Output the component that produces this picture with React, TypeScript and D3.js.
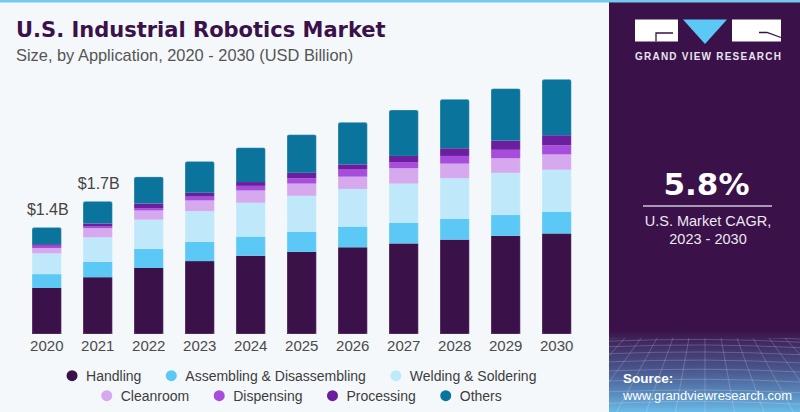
import React, { useEffect, useRef } from "react";
import * as d3 from "d3";

const years = ["2020", "2021", "2022", "2023", "2024", "2025", "2026", "2027", "2028", "2029", "2030"];
const seriesNames = [
  "Handling",
  "Assembling & Disassembling",
  "Welding & Soldering",
  "Cleanroom",
  "Dispensing",
  "Processing",
  "Others",
];
const seriesColors = ["#3a1149", "#5bc8f5", "#bfe9fa", "#d6a8ee", "#a64ddb", "#6b1f9e", "#0b749c"];
const handling = [0.6, 0.74, 0.86, 0.95, 1.02, 1.07, 1.13, 1.18, 1.23, 1.28, 1.31];
const assembling = [0.18, 0.2, 0.25, 0.25, 0.25, 0.26, 0.27, 0.27, 0.27, 0.27, 0.28];
const welding = [0.27, 0.32, 0.38, 0.4, 0.44, 0.47, 0.49, 0.51, 0.53, 0.55, 0.55];
const cleanroom = [0.07, 0.12, 0.12, 0.14, 0.16, 0.16, 0.16, 0.2, 0.19, 0.19, 0.2];
const dispensing = [0.03, 0.02, 0.03, 0.05, 0.06, 0.07, 0.1, 0.08, 0.1, 0.11, 0.12];
const processing = [0.02, 0.04, 0.06, 0.05, 0.05, 0.07, 0.06, 0.08, 0.1, 0.12, 0.13];
const others = [0.22, 0.29, 0.35, 0.41, 0.45, 0.5, 0.55, 0.6, 0.64, 0.68, 0.73];
const totalLabels = ["$1.4B", "$1.7B"];
const legendRows = [[0, 1, 2], [3, 4, 5, 6]];

const seriesValues = [handling, assembling, welding, cleanroom, dispensing, processing, others];

const PURPLE = "#3a1149";
const FONT = "'Liberation Sans', Arial, sans-serif";

export default function App() {
  const ref = useRef<SVGSVGElement | null>(null);

  useEffect(() => {
    const svg = d3.select(ref.current);
    svg.selectAll("*").remove();

    const W = 800, H = 412;
    const defs = svg.append("defs");

    // background
    svg.append("rect").attr("width", W).attr("height", H).attr("fill", "#f4f8fb");

    // title
    svg.append("text").attr("x", 16).attr("y", 37)
      .attr("font-family", "'DejaVu Sans', sans-serif").attr("font-weight", "bold")
      .attr("font-size", 21).attr("fill", PURPLE)
      .text("U.S. Industrial Robotics Market");
    svg.append("text").attr("x", 16).attr("y", 61)
      .attr("font-family", FONT).attr("font-size", 16.4).attr("fill", "#555")
      .text("Size, by Application, 2020 - 2030 (USD Billion)");

    // scales
    const x = d3.scaleBand<string>().domain(years).range([32, 571.5]).paddingInner(0.42).paddingOuter(0);
    const y = d3.scaleLinear().domain([0, 4]).range([334, 27]);

    const table = years.map((yr, i) => {
      const row: any = { year: yr };
      seriesNames.forEach((s, k) => (row[s] = seriesValues[k][i]));
      return row;
    });
    const stacked = d3.stack<any>().keys(seriesNames)(table);

    // bars with rounded top via clip
    const barsG = svg.append("g");
    years.forEach((yr, i) => {
      const total = d3.sum(seriesValues, (s) => s[i]);
      const id = "clip" + yr;
      defs.append("clipPath").attr("id", id).append("rect")
        .attr("x", x(yr)!).attr("y", y(total))
        .attr("width", x.bandwidth()).attr("height", y(0) - y(total) + 6)
        .attr("rx", 2.5);
      const g = barsG.append("g").attr("clip-path", `url(#${id})`);
      stacked.forEach((layer, k) => {
        const d = layer[i];
        g.append("rect")
          .attr("x", x(yr)!).attr("width", x.bandwidth())
          .attr("y", y(d[1])).attr("height", Math.max(0, y(d[0]) - y(d[1])))
          .attr("fill", seriesColors[k]);
      });
      g.append("rect")
        .attr("x", x(yr)! + 0.25).attr("y", y(total) + 0.25)
        .attr("width", x.bandwidth() - 0.5).attr("height", y(0) - y(total) - 0.25)
        .attr("rx", 2.5).attr("fill", "none").attr("stroke", "#ffffff").attr("stroke-opacity", 0.35).attr("stroke-width", 0.6);
    });

    // total labels
    totalLabels.forEach((lab, i) => {
      const total = d3.sum(seriesValues, (s) => s[i]);
      svg.append("text")
        .attr("x", x(years[i])! + x.bandwidth() / 2 + 1).attr("y", y(total) - 12)
        .attr("text-anchor", "middle").attr("font-family", FONT).attr("font-size", 16)
        .attr("fill", "#444").text(lab);
    });

    // x axis labels
    const axis = d3.axisBottom(x).tickSize(0).tickPadding(0);
    const ax = svg.append("g").attr("transform", `translate(0,${y(0)})`).call(axis);
    ax.select(".domain").remove();
    ax.selectAll("text")
      .attr("y", 17).attr("dy", 0)
      .attr("font-family", FONT).attr("font-size", 15).attr("fill", "#4a4a4a");

    // legend
    const legendY = [375.7, 395.7];
    const centerX = 301.5;
    legendRows.forEach((row, ri) => {
      const g = svg.append("g");
      const items = row.map((k) => {
        const t = g.append("text").attr("y", legendY[ri]).attr("dy", "0.35em")
          .attr("font-family", FONT).attr("font-size", 14).attr("fill", "#3d3d3d")
          .text(seriesNames[k]);
        const w = (t.node() as SVGTextElement).getComputedTextLength();
        return { k, t, w };
      });
      const r = 5.5, gapText = 14, gapItem = 30;
      const total = r + d3.sum(items, (it) => gapText + it.w) + gapItem * (items.length - 1);
      let cx = centerX - total / 2 + r;
      items.forEach((it) => {
        g.append("circle").attr("cx", cx).attr("cy", legendY[ri]).attr("r", r).attr("fill", seriesColors[it.k]);
        it.t.attr("x", cx + gapText);
        cx += gapText + it.w + gapItem;
      });
    });

    // right panel
    const px = 609;
    svg.append("rect").attr("x", px).attr("y", 0).attr("width", W - px).attr("height", H).attr("fill", PURPLE);

    // bottom grid decoration
    const grad = defs.append("linearGradient").attr("id", "pgrad").attr("x1", 0).attr("y1", 0).attr("x2", 0).attr("y2", 1);
    grad.append("stop").attr("offset", "0%").attr("stop-color", "#5fb4e6").attr("stop-opacity", 0);
    grad.append("stop").attr("offset", "45%").attr("stop-color", "#5a9fd6").attr("stop-opacity", 0.45);
    grad.append("stop").attr("offset", "100%").attr("stop-color", "#6cc3ef").attr("stop-opacity", 0.95);
    svg.append("rect").attr("x", px).attr("y", 330).attr("width", W - px).attr("height", H - 330).attr("fill", "url(#pgrad)");
    defs.append("clipPath").attr("id", "pclip").append("rect").attr("x", px).attr("y", 338).attr("width", W - px).attr("height", H - 338);
    const grid = svg.append("g").attr("clip-path", "url(#pclip)").attr("stroke", "#ffffff").attr("stroke-opacity", 0.28).attr("stroke-width", 0.7).attr("fill", "none");
    const vp = [705, 250];
    d3.range(-20, 21).forEach((j) => {
      grid.append("line").attr("x1", vp[0]).attr("y1", vp[1]).attr("x2", vp[0] + j * 40).attr("y2", 470);
    });
    d3.range(0, 14).forEach((j) => {
      const yy = 338 + Math.pow(j, 1.45) * 3.2;
      grid.append("path").attr("d", `M${px},${yy} Q705,${yy - 4} 800,${yy + 1}`);
    });

    // top blue line
    svg.append("rect").attr("x", 0).attr("y", 0).attr("width", W).attr("height", 2.5).attr("fill", "#74c9ef");

    // logo
    svg.append("rect").attr("x", 635).attr("y", 19.5).attr("width", 43).attr("height", 22).attr("fill", "#ffffff");
    svg.append("path").attr("d", "M683,19.5 L727,19.5 L705,44 Z").attr("fill", "#5bc8f5");
    svg.append("rect").attr("x", 732).attr("y", 19.5).attr("width", 49).attr("height", 22).attr("fill", "#ffffff");
    svg.append("path").attr("d", "M656,41.5 V33 H673").attr("stroke", PURPLE).attr("stroke-width", 1.3).attr("fill", "none");
    svg.append("path").attr("d", "M759,32.5 H767 L781,37.5").attr("stroke", PURPLE).attr("stroke-width", 1.3).attr("fill", "none");
    svg.append("text").attr("x", 635).attr("y", 60).attr("textLength", 146).attr("lengthAdjust", "spacing")
      .attr("font-family", FONT).attr("font-weight", "bold").attr("font-size", 10).attr("fill", "#e8e4ee")
      .text("GRAND VIEW RESEARCH");

    // CAGR
    svg.append("text").attr("x", 706.5).attr("y", 195).attr("text-anchor", "middle")
      .attr("font-family", "'DejaVu Sans', sans-serif").attr("font-weight", "bold").attr("font-size", 31).attr("fill", "#ffffff")
      .text("5.8%");
    svg.append("line").attr("x1", 643).attr("x2", 772).attr("y1", 206).attr("y2", 206)
      .attr("stroke", "#cfc6d8").attr("stroke-width", 1.5);
    svg.append("text").attr("x", 708).attr("y", 226).attr("text-anchor", "middle")
      .attr("font-family", FONT).attr("font-size", 14.5).attr("fill", "#ece8f0")
      .text("U.S. Market CAGR,");
    svg.append("text").attr("x", 708).attr("y", 244).attr("text-anchor", "middle")
      .attr("font-family", FONT).attr("font-size", 14.5).attr("fill", "#ece8f0")
      .text("2023 - 2030");

    // source
    svg.append("text").attr("x", 623).attr("y", 383)
      .attr("font-family", FONT).attr("font-weight", "bold").attr("font-size", 13.5).attr("fill", "#ffffff")
      .text("Source:");
    svg.append("text").attr("x", 623).attr("y", 400)
      .attr("font-family", FONT).attr("font-size", 13).attr("fill", "#ffffff")
      .text("www.grandviewresearch.com");
  }, []);

  return (
    <svg
      ref={ref}
      width={800}
      height={412}
      style={{ position: "absolute", left: 0, top: 0, display: "block" }}
    />
  );
}
